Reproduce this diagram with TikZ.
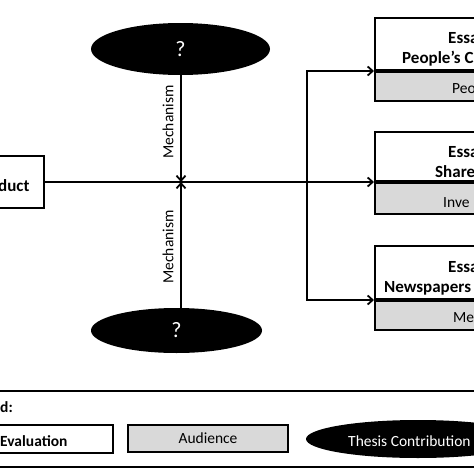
\documentclass[tikz,border=0pt]{standalone}
\usepackage{fontspec}
\setmainfont{Carlito}
\usetikzlibrary{arrows.meta,shapes.geometric}

\newcommand{\diagfont}{\fontsize{15.5}{18}\selectfont}
\newcommand{\titlefont}{\fontsize{17}{20}\selectfont\bfseries}

\begin{document}
\begin{tikzpicture}[x=1pt,y=-1pt,
    every node/.style={font=\diagfont},
    evalbox/.style={draw,rectangle,line width=2pt,inner sep=0pt},
    audbox/.style={evalbox,fill=gray!30},
    contrib/.style={ellipse,fill=black,text=white,inner sep=0pt},
    title/.style={anchor=base west,inner sep=0pt,font=\titlefont},
    legtitle/.style={anchor=base west,inner sep=0pt,font=\diagfont\bfseries},
    plain/.style={anchor=base west,inner sep=0pt},
    flow/.style={line width=1.8pt,-{Straight Barb[length=5pt,width=9pt]}}]

        \useasboundingbox (0,0) rectangle (474,474);
        \clip (0,0) rectangle (474,474);

        \begin{scope}[every node/.style={evalbox}]
          \node[minimum width=90pt,minimum height=52pt,anchor=east] (product) at (45,182) {};
          \node[minimum width=190pt,minimum height=52pt,anchor=south west] (essayA) at (374,71) {};
          \node[audbox,minimum width=190pt,minimum height=29pt,anchor=north west] (audA) at (essayA.south west) {};
          \node[minimum width=190pt,minimum height=49pt,anchor=south west] (essayB) at (374,182) {};
          \node[audbox,minimum width=190pt,minimum height=31pt,anchor=north west] (audB) at (essayB.south west) {};
          \node[minimum width=190pt,minimum height=53pt,anchor=south west] (essayC) at (374,300) {};
          \node[audbox,minimum width=190pt,minimum height=29pt,anchor=north west] (audC) at (essayC.south west) {};
        \end{scope}

        \begin{scope}[every node/.style={contrib,font=\fontsize{22}{24}\selectfont}]
          \node[minimum width=179pt,minimum height=52pt] (qTop) at (180.5,49) {?};
          \node[minimum width=171pt,minimum height=45pt] (qBot) at (176.5,330.5) {?};
        \end{scope}

        % box texts, cut by the frame
        \node[title] (tProduct) at (-2,191) {duct};
        \node[title] (tEssayA) at (448,43) {Essa};
        \node[title] (tNameA) at (402,63) {People's C};
        \node[plain] (tAudA) at (452,93) {Peo};
        \node[title] (tEssayB) at (448,157) {Essa};
        \node[title] (tNameB) at (435,177) {Share};
        \node[plain] (tAudB) at (443,207) {Inve};
        \node[title] (tEssayC) at (448,272) {Essa};
        \node[title] (tNameC) at (384,292) {Newspapers};
        \node[plain] (tAudC) at (453,322) {Me};

        \node[rotate=90] (mechTop) at (168,122) {Mechanism};
        \node[rotate=90] (mechBot) at (168,247) {Mechanism};

        \coordinate (mid) at (181,182);
        \coordinate (split) at (307,182);

        \draw[flow] (qTop.south -| mid) -- (mid);
        \draw[flow] (qBot.north -| mid) -- (mid);
        \draw[flow] (product.east) -- (essayB.south west);
        \draw[flow] (split) |- (essayA.south west);
        \draw[flow] (split) |- (essayC.south west);

        % legend
        \draw[line width=1.5pt] (-10,391) rectangle (490,467);
        \node[legtitle] (tLegend) at (0,412) {d:};
        \node[evalbox,minimum width=160pt,minimum height=28pt,anchor=east] (legEval) at (114,439) {};
        \node[legtitle] (tLegEval) at (0,446) {Evaluation};
        \node[audbox,minimum width=160pt,minimum height=27pt] (legAud) at (208,438.5) {Audience};
        \node[contrib,minimum width=224pt,minimum height=38pt] (legThesis) at (418,439) {};
        \node[plain,text=white] (tLegThesis) at (348,446) {Thesis Contribution};

      \end{tikzpicture}
\end{document}
